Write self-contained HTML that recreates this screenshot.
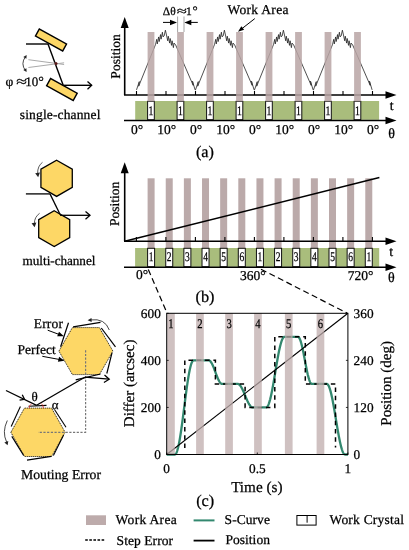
<!DOCTYPE html>
<html><head><meta charset="utf-8"><title>Figure</title>
<style>html,body{margin:0;padding:0;background:#fff;}svg{display:block;}text{font-family:"Liberation Serif",serif;text-rendering:geometricPrecision;stroke:#000;stroke-width:0.25px;}</style>
</head><body>
<svg width="409" height="550" viewBox="0 0 409 550" font-family="Liberation Serif, serif" fill="#000"><rect x="135.2" y="101" width="243.9" height="18.8" fill="#a9bd7c"/>
<rect x="147.60" y="101.3" width="6.7" height="18.4" fill="#fff" stroke="#111" stroke-width="1"/>
<text x="151.0" y="115" font-size="13" text-anchor="middle" transform="translate(151.00,0) scale(0.75,1) translate(-151.00,0)">1</text>
<rect x="177.10" y="101.3" width="6.7" height="18.4" fill="#fff" stroke="#111" stroke-width="1"/>
<text x="180.5" y="115" font-size="13" text-anchor="middle" transform="translate(180.50,0) scale(0.75,1) translate(-180.50,0)">1</text>
<rect x="206.60" y="101.3" width="6.7" height="18.4" fill="#fff" stroke="#111" stroke-width="1"/>
<text x="210.0" y="115" font-size="13" text-anchor="middle" transform="translate(210.00,0) scale(0.75,1) translate(-210.00,0)">1</text>
<rect x="236.10" y="101.3" width="6.7" height="18.4" fill="#fff" stroke="#111" stroke-width="1"/>
<text x="239.5" y="115" font-size="13" text-anchor="middle" transform="translate(239.50,0) scale(0.75,1) translate(-239.50,0)">1</text>
<rect x="265.60" y="101.3" width="6.7" height="18.4" fill="#fff" stroke="#111" stroke-width="1"/>
<text x="269.0" y="115" font-size="13" text-anchor="middle" transform="translate(269.00,0) scale(0.75,1) translate(-269.00,0)">1</text>
<rect x="295.10" y="101.3" width="6.7" height="18.4" fill="#fff" stroke="#111" stroke-width="1"/>
<text x="298.5" y="115" font-size="13" text-anchor="middle" transform="translate(298.50,0) scale(0.75,1) translate(-298.50,0)">1</text>
<rect x="324.60" y="101.3" width="6.7" height="18.4" fill="#fff" stroke="#111" stroke-width="1"/>
<text x="328.0" y="115" font-size="13" text-anchor="middle" transform="translate(328.00,0) scale(0.75,1) translate(-328.00,0)">1</text>
<rect x="354.10" y="101.3" width="6.7" height="18.4" fill="#fff" stroke="#111" stroke-width="1"/>
<text x="357.5" y="115" font-size="13" text-anchor="middle" transform="translate(357.50,0) scale(0.75,1) translate(-357.50,0)">1</text>
<line x1="124.7" y1="95" x2="124.7" y2="27" stroke="#000" stroke-width="1.6"/>
<polygon points="124.70,17.00 128.70,28.00 120.70,28.00" fill="#000"/>
<line x1="124" y1="95" x2="387" y2="95" stroke="#000" stroke-width="1.6"/>
<polygon points="396.50,95.00 385.50,98.75 385.50,91.25" fill="#000"/>
<line x1="124" y1="120.5" x2="387" y2="120.5" stroke="#000" stroke-width="1.6"/>
<polygon points="396.50,120.50 385.50,124.25 385.50,116.75" fill="#000"/>
<line x1="136.5" y1="91" x2="136.5" y2="95" stroke="#000" stroke-width="1.1"/>
<line x1="166.0" y1="91" x2="166.0" y2="95" stroke="#000" stroke-width="1.1"/>
<line x1="195.5" y1="91" x2="195.5" y2="95" stroke="#000" stroke-width="1.1"/>
<line x1="225.0" y1="91" x2="225.0" y2="95" stroke="#000" stroke-width="1.1"/>
<line x1="254.5" y1="91" x2="254.5" y2="95" stroke="#000" stroke-width="1.1"/>
<line x1="284.0" y1="91" x2="284.0" y2="95" stroke="#000" stroke-width="1.1"/>
<line x1="313.5" y1="91" x2="313.5" y2="95" stroke="#000" stroke-width="1.1"/>
<line x1="343.0" y1="91" x2="343.0" y2="95" stroke="#000" stroke-width="1.1"/>
<line x1="372.5" y1="91" x2="372.5" y2="95" stroke="#000" stroke-width="1.1"/>
<polyline points="136.50,89.90 139.30,81.60 138.70,86.20 155.60,44.30 156.70,39.32 157.30,43.92 158.60,36.95 159.20,41.55 160.50,34.57 161.10,39.17 162.40,32.20 163.00,36.80 164.10,36.00 165.40,30.20 166.70,36.00 167.70,40.80 168.30,36.20 169.60,43.08 170.20,38.48 171.50,45.36 172.10,40.76 173.40,47.64 174.00,43.04 175.70,45.00 193.20,85.40 192.50,81.20 195.10,89.90 195.50,89.90 198.30,81.60 197.70,86.20 214.60,44.30 215.70,39.32 216.30,43.92 217.60,36.95 218.20,41.55 219.50,34.57 220.10,39.17 221.40,32.20 222.00,36.80 223.10,36.00 224.40,30.20 225.70,36.00 226.70,40.80 227.30,36.20 228.60,43.08 229.20,38.48 230.50,45.36 231.10,40.76 232.40,47.64 233.00,43.04 234.70,45.00 252.20,85.40 251.50,81.20 254.10,89.90 254.50,89.90 257.30,81.60 256.70,86.20 273.60,44.30 274.70,39.32 275.30,43.92 276.60,36.95 277.20,41.55 278.50,34.57 279.10,39.17 280.40,32.20 281.00,36.80 282.10,36.00 283.40,30.20 284.70,36.00 285.70,40.80 286.30,36.20 287.60,43.08 288.20,38.48 289.50,45.36 290.10,40.76 291.40,47.64 292.00,43.04 293.70,45.00 311.20,85.40 310.50,81.20 313.10,89.90 313.50,89.90 316.30,81.60 315.70,86.20 332.60,44.30 333.70,39.32 334.30,43.92 335.60,36.95 336.20,41.55 337.50,34.57 338.10,39.17 339.40,32.20 340.00,36.80 341.10,36.00 342.40,30.20 343.70,36.00 344.70,40.80 345.30,36.20 346.60,43.08 347.20,38.48 348.50,45.36 349.10,40.76 350.40,47.64 351.00,43.04 352.70,45.00 370.20,85.40 369.50,81.20 372.10,89.90" fill="none" stroke="#222" stroke-width="0.8" stroke-linejoin="bevel"/>
<rect x="147.60" y="32" width="6.8" height="69.3" fill="#b9a5a5" fill-opacity="0.85"/>
<rect x="177.10" y="32" width="6.8" height="69.3" fill="#b9a5a5" fill-opacity="0.85"/>
<rect x="206.60" y="32" width="6.8" height="69.3" fill="#b9a5a5" fill-opacity="0.85"/>
<rect x="236.10" y="32" width="6.8" height="69.3" fill="#b9a5a5" fill-opacity="0.85"/>
<rect x="265.60" y="32" width="6.8" height="69.3" fill="#b9a5a5" fill-opacity="0.85"/>
<rect x="295.10" y="32" width="6.8" height="69.3" fill="#b9a5a5" fill-opacity="0.85"/>
<rect x="324.60" y="32" width="6.8" height="69.3" fill="#b9a5a5" fill-opacity="0.85"/>
<rect x="354.10" y="32" width="6.8" height="69.3" fill="#b9a5a5" fill-opacity="0.85"/>
<text x="137.1" y="133.6" font-size="13.5" text-anchor="middle" >0°</text>
<text x="166.6" y="133.6" font-size="13.5" text-anchor="middle" >10°</text>
<text x="196.1" y="133.6" font-size="13.5" text-anchor="middle" >0°</text>
<text x="225.6" y="133.6" font-size="13.5" text-anchor="middle" >10°</text>
<text x="255.1" y="133.6" font-size="13.5" text-anchor="middle" >0°</text>
<text x="284.6" y="133.6" font-size="13.5" text-anchor="middle" >10°</text>
<text x="314.1" y="133.6" font-size="13.5" text-anchor="middle" >0°</text>
<text x="343.6" y="133.6" font-size="13.5" text-anchor="middle" >10°</text>
<text x="373.1" y="133.6" font-size="13.5" text-anchor="middle" >0°</text>
<text x="391.7" y="110" font-size="14" text-anchor="middle" >t</text>
<text x="391.7" y="137.5" font-size="14" text-anchor="middle" >θ</text>
<text x="205" y="157.2" font-size="16.3" text-anchor="middle" >(a)</text>
<text transform="translate(120.1,56.5) rotate(-90)" x="0" y="0" font-size="13.5" text-anchor="middle">Position</text>
<text x="162.8" y="15.3" font-size="11.5">Δθ</text>
<text transform="translate(176.8,14.9) scale(1.6,1.05)" x="0" y="0" font-size="11.5">≈</text>
<text y="15.3" font-size="11.5"><tspan x="186">1</tspan><tspan x="192.4" font-size="13">°</tspan></text>
<line x1="163" y1="22.4" x2="171" y2="22.4" stroke="#000" stroke-width="1"/>
<polygon points="177.00,22.40 170.00,25.15 170.00,19.65" fill="#000"/>
<line x1="190" y1="22.4" x2="197.8" y2="22.4" stroke="#000" stroke-width="1"/>
<polygon points="184.30,22.40 191.30,19.65 191.30,25.15" fill="#000"/>
<line x1="177.6" y1="16.5" x2="177.6" y2="32" stroke="#999" stroke-width="0.9"/>
<line x1="184" y1="16.5" x2="184" y2="32" stroke="#999" stroke-width="0.9"/>
<text x="227.4" y="13.7" font-size="13.5" textLength="61.1" lengthAdjust="spacing" >Work Area</text>
<line x1="254.8" y1="18.6" x2="242" y2="28.6" stroke="#000" stroke-width="1"/>
<polygon points="238.00,31.70 241.35,26.24 244.12,29.78" fill="#000"/>
<rect x="35.5" y="36" width="31" height="8" fill="#fdd766" stroke="#000" stroke-width="1.4" transform="rotate(28.6 51 40)"/>
<rect x="46.7" y="85.4" width="30.4" height="8.2" fill="#fdd766" stroke="#000" stroke-width="1.4" transform="rotate(29 61.9 89.5)"/>
<line x1="26" y1="44" x2="48" y2="44" stroke="#000" stroke-width="1.4"/>
<line x1="48" y1="44" x2="63.1" y2="85" stroke="#000" stroke-width="1.4"/>
<line x1="63.1" y1="85.3" x2="91.5" y2="85.3" stroke="#000" stroke-width="1.4"/>
<polyline points="87.50,89.20 91.70,85.30 87.50,81.40" fill="none" stroke="#000" stroke-width="1.3"/>
<line x1="28.4" y1="59.7" x2="64.1" y2="64.5" stroke="#aaa" stroke-width="1"/>
<line x1="28.4" y1="67.5" x2="64.1" y2="62.8" stroke="#aaa" stroke-width="1"/>
<circle cx="56" cy="63.4" r="1.5" fill="#5a1818"/>
<path d="M25.6,56.5 Q20.2,63.7 25.6,70.8" fill="none" stroke="#333" stroke-width="0.9"/>
<polygon points="26.60,55.00 26.39,58.84 23.31,56.99" fill="#222"/>
<polygon points="26.60,72.00 23.31,70.01 26.39,68.16" fill="#222"/>
<text x="5.4" y="86.4" font-size="13.5">φ</text>
<text transform="translate(16.2,85.6) scale(1.5,1.05)" x="0" y="0" font-size="13">≈</text>
<text x="25.3" y="86.4" font-size="13">10<tspan font-size="14">°</tspan></text>
<text x="19.8" y="119.4" font-size="13.5" textLength="80.6" lengthAdjust="spacing" >single-channel</text>
<rect x="147.60" y="178.3" width="7" height="70" fill="#bbaaaa"/>
<rect x="165.74" y="178.3" width="7" height="70" fill="#bbaaaa"/>
<rect x="183.88" y="178.3" width="7" height="70" fill="#bbaaaa"/>
<rect x="202.02" y="178.3" width="7" height="70" fill="#bbaaaa"/>
<rect x="220.16" y="178.3" width="7" height="70" fill="#bbaaaa"/>
<rect x="238.30" y="178.3" width="7" height="70" fill="#bbaaaa"/>
<rect x="256.44" y="178.3" width="7" height="70" fill="#bbaaaa"/>
<rect x="274.58" y="178.3" width="7" height="70" fill="#bbaaaa"/>
<rect x="292.72" y="178.3" width="7" height="70" fill="#bbaaaa"/>
<rect x="310.86" y="178.3" width="7" height="70" fill="#bbaaaa"/>
<rect x="329.00" y="178.3" width="7" height="70" fill="#bbaaaa"/>
<rect x="347.14" y="178.3" width="7" height="70" fill="#bbaaaa"/>
<rect x="365.28" y="178.3" width="7" height="70" fill="#bbaaaa"/>
<rect x="135.1" y="248" width="244.1" height="18.8" fill="#a9bd7c"/>
<rect x="147.60" y="248.3" width="7" height="18.4" fill="#fff" stroke="#111" stroke-width="1"/>
<text x="151.1" y="261.1" font-size="13.2" text-anchor="middle" transform="translate(151.10,0) scale(0.72,1) translate(-151.10,0)">1</text>
<rect x="165.74" y="248.3" width="7" height="18.4" fill="#fff" stroke="#111" stroke-width="1"/>
<text x="169.24" y="261.1" font-size="13.2" text-anchor="middle" transform="translate(169.24,0) scale(0.72,1) translate(-169.24,0)">2</text>
<rect x="183.88" y="248.3" width="7" height="18.4" fill="#fff" stroke="#111" stroke-width="1"/>
<text x="187.38" y="261.1" font-size="13.2" text-anchor="middle" transform="translate(187.38,0) scale(0.72,1) translate(-187.38,0)">3</text>
<rect x="202.02" y="248.3" width="7" height="18.4" fill="#fff" stroke="#111" stroke-width="1"/>
<text x="205.51999999999998" y="261.1" font-size="13.2" text-anchor="middle" transform="translate(205.52,0) scale(0.72,1) translate(-205.52,0)">4</text>
<rect x="220.16" y="248.3" width="7" height="18.4" fill="#fff" stroke="#111" stroke-width="1"/>
<text x="223.66" y="261.1" font-size="13.2" text-anchor="middle" transform="translate(223.66,0) scale(0.72,1) translate(-223.66,0)">5</text>
<rect x="238.30" y="248.3" width="7" height="18.4" fill="#fff" stroke="#111" stroke-width="1"/>
<text x="241.8" y="261.1" font-size="13.2" text-anchor="middle" transform="translate(241.80,0) scale(0.72,1) translate(-241.80,0)">6</text>
<rect x="256.44" y="248.3" width="7" height="18.4" fill="#fff" stroke="#111" stroke-width="1"/>
<text x="259.94" y="261.1" font-size="13.2" text-anchor="middle" transform="translate(259.94,0) scale(0.72,1) translate(-259.94,0)">1</text>
<rect x="274.58" y="248.3" width="7" height="18.4" fill="#fff" stroke="#111" stroke-width="1"/>
<text x="278.08" y="261.1" font-size="13.2" text-anchor="middle" transform="translate(278.08,0) scale(0.72,1) translate(-278.08,0)">2</text>
<rect x="292.72" y="248.3" width="7" height="18.4" fill="#fff" stroke="#111" stroke-width="1"/>
<text x="296.22" y="261.1" font-size="13.2" text-anchor="middle" transform="translate(296.22,0) scale(0.72,1) translate(-296.22,0)">3</text>
<rect x="310.86" y="248.3" width="7" height="18.4" fill="#fff" stroke="#111" stroke-width="1"/>
<text x="314.36" y="261.1" font-size="13.2" text-anchor="middle" transform="translate(314.36,0) scale(0.72,1) translate(-314.36,0)">4</text>
<rect x="329.00" y="248.3" width="7" height="18.4" fill="#fff" stroke="#111" stroke-width="1"/>
<text x="332.5" y="261.1" font-size="13.2" text-anchor="middle" transform="translate(332.50,0) scale(0.72,1) translate(-332.50,0)">5</text>
<rect x="347.14" y="248.3" width="7" height="18.4" fill="#fff" stroke="#111" stroke-width="1"/>
<text x="350.64" y="261.1" font-size="13.2" text-anchor="middle" transform="translate(350.64,0) scale(0.72,1) translate(-350.64,0)">6</text>
<rect x="365.28" y="248.3" width="7" height="18.4" fill="#fff" stroke="#111" stroke-width="1"/>
<text x="368.78" y="261.1" font-size="13.2" text-anchor="middle" transform="translate(368.78,0) scale(0.72,1) translate(-368.78,0)">1</text>
<line x1="124.7" y1="241.3" x2="124.7" y2="172" stroke="#000" stroke-width="1.6"/>
<polygon points="124.70,162.20 128.70,173.20 120.70,173.20" fill="#000"/>
<line x1="124" y1="241.3" x2="387" y2="241.3" stroke="#000" stroke-width="1.6"/>
<polygon points="396.50,241.30 385.50,245.05 385.50,237.55" fill="#000"/>
<line x1="124" y1="267.3" x2="387" y2="267.3" stroke="#000" stroke-width="1.6"/>
<polygon points="396.50,267.30 385.50,271.05 385.50,263.55" fill="#000"/>
<line x1="136.4" y1="237" x2="136.4" y2="241.3" stroke="#000" stroke-width="1.1"/>
<line x1="165.9" y1="237" x2="165.9" y2="241.3" stroke="#000" stroke-width="1.1"/>
<line x1="195.4" y1="237" x2="195.4" y2="241.3" stroke="#000" stroke-width="1.1"/>
<line x1="224.9" y1="237" x2="224.9" y2="241.3" stroke="#000" stroke-width="1.1"/>
<line x1="254.4" y1="237" x2="254.4" y2="241.3" stroke="#000" stroke-width="1.1"/>
<line x1="283.9" y1="237" x2="283.9" y2="241.3" stroke="#000" stroke-width="1.1"/>
<line x1="313.4" y1="237" x2="313.4" y2="241.3" stroke="#000" stroke-width="1.1"/>
<line x1="342.9" y1="237" x2="342.9" y2="241.3" stroke="#000" stroke-width="1.1"/>
<line x1="372.4" y1="237" x2="372.4" y2="241.3" stroke="#000" stroke-width="1.1"/>
<line x1="124.7" y1="241.3" x2="379.4" y2="177.5" stroke="#000" stroke-width="1.5"/>
<text x="142" y="279.4" font-size="13.5" text-anchor="middle" >0°</text>
<text x="252.8" y="279.8" font-size="13.5" text-anchor="middle" >360°</text>
<text x="360.7" y="280" font-size="13.5" text-anchor="middle" >720°</text>
<text x="391.3" y="255.9" font-size="14" text-anchor="middle" >t</text>
<text x="391.3" y="282" font-size="14" text-anchor="middle" >θ</text>
<text x="205" y="301.5" font-size="16.3" text-anchor="middle" >(b)</text>
<text transform="translate(119.2,203.8) rotate(-90)" x="0" y="0" font-size="13.5" text-anchor="middle">Position</text>
<line x1="148.3" y1="269.6" x2="167" y2="313" stroke="#000" stroke-width="1.2" stroke-dasharray="6,3.5"/>
<line x1="261" y1="269.2" x2="347" y2="313" stroke="#000" stroke-width="1.2" stroke-dasharray="6,3.5"/>
<polygon points="56.60,160.20 72.28,169.25 72.28,187.35 56.60,196.40 40.92,187.35 40.92,169.25" fill="#fdd766" stroke="#000" stroke-width="1.3"/>
<polygon points="54.20,210.80 69.70,219.75 69.70,237.65 54.20,246.60 38.70,237.65 38.70,219.75" fill="#fdd766" stroke="#000" stroke-width="1.3"/>
<line x1="25.9" y1="193.9" x2="50" y2="193.9" stroke="#000" stroke-width="1.3"/>
<line x1="50" y1="193.9" x2="60.1" y2="214.5" stroke="#000" stroke-width="1.3"/>
<line x1="60.1" y1="215.3" x2="89.8" y2="215.3" stroke="#000" stroke-width="1.3"/>
<polyline points="85.50,219.20 90.00,215.30 85.50,211.40" fill="none" stroke="#000" stroke-width="1.3"/>
<path d="M42.5,162.3 Q37.5,166 37.6,173.5" fill="none" stroke="#333" stroke-width="0.8"/>
<polygon points="38.20,177.20 35.19,173.30 39.94,172.59" fill="#222"/>
<path d="M39.6,213.3 Q34.5,217 34.3,223.5" fill="none" stroke="#333" stroke-width="0.8"/>
<polygon points="34.60,227.20 31.59,223.30 36.34,222.59" fill="#222"/>
<text x="22.6" y="264.5" font-size="13.2" textLength="72.8" lengthAdjust="spacing" >multi-channel</text>
<polyline points="166.70,454.50 166.90,454.50 167.10,454.50 167.30,454.50 167.51,454.50 167.71,454.50 167.91,454.50 168.11,454.50 168.31,454.50 168.51,454.50 168.71,454.50 168.91,454.50 169.12,454.50 169.32,454.50 169.52,454.50 169.72,454.50 169.92,454.50 170.12,454.50 170.32,454.50 170.53,454.50 170.73,454.50 170.93,454.50 171.13,454.50 171.33,454.50 171.53,454.50 171.73,454.50 171.93,454.50 172.14,454.50 172.34,454.50 172.54,454.50 172.74,454.50 172.94,454.50 173.14,454.50 173.34,454.50 173.55,454.50 173.75,454.50 173.95,454.50 174.15,454.50 174.35,454.50 174.55,454.50 174.75,454.50 174.95,454.48 175.16,454.42 175.36,454.30 175.56,454.12 175.76,453.90 175.96,453.62 176.16,453.29 176.36,452.90 176.57,452.47 176.77,451.98 176.97,451.44 177.17,450.86 177.37,450.22 177.57,449.54 177.77,448.81 177.97,448.03 178.18,447.21 178.38,446.34 178.58,445.42 178.78,444.47 178.98,443.47 179.18,442.43 179.38,441.35 179.59,440.24 179.79,439.08 179.99,437.89 180.19,436.67 180.39,435.41 180.59,434.12 180.79,432.80 180.99,431.46 181.20,430.08 181.40,428.68 181.60,427.25 181.80,425.81 182.00,424.34 182.20,422.85 182.40,421.35 182.61,419.83 182.81,418.29 183.01,416.75 183.21,415.19 183.41,413.62 183.61,412.05 183.81,410.47 184.01,408.89 184.22,407.31 184.42,405.72 184.62,404.14 184.82,402.57 185.02,400.99 185.22,399.43 185.42,397.87 185.63,396.33 185.83,394.80 186.03,393.28 186.23,391.78 186.43,390.29 186.63,388.83 186.83,387.38 187.03,385.96 187.24,384.57 187.44,383.20 187.64,381.85 187.84,380.54 188.04,379.25 188.24,378.00 188.44,376.78 188.65,375.60 188.85,374.45 189.05,373.34 189.25,372.27 189.45,371.23 189.65,370.24 189.85,369.29 190.05,368.39 190.26,367.53 190.46,366.71 190.66,365.94 190.86,365.21 191.06,364.54 191.26,363.91 191.46,363.33 191.67,362.81 191.87,362.33 192.07,361.90 192.27,361.53 192.47,361.20 192.67,360.93 192.87,360.71 193.07,360.55 193.28,360.44 193.48,360.38 193.68,360.37 193.88,360.37 194.08,360.37 194.28,360.37 194.48,360.37 194.69,360.37 194.89,360.37 195.09,360.37 195.29,360.37 195.49,360.37 195.69,360.37 195.89,360.37 196.09,360.37 196.30,360.37 196.50,360.37 196.70,360.37 196.90,360.37 197.10,360.37 197.30,360.37 197.50,360.37 197.71,360.37 197.91,360.37 198.11,360.37 198.31,360.37 198.51,360.37 198.71,360.37 198.91,360.37 199.11,360.37 199.32,360.37 199.52,360.37 199.72,360.37 199.92,360.37 200.12,360.37 200.32,360.37 200.52,360.37 200.73,360.37 200.93,360.37 201.13,360.37 201.33,360.37 201.53,360.37 201.73,360.37 201.93,360.37 202.13,360.37 202.34,360.37 202.54,360.37 202.74,360.37 202.94,360.37 203.14,360.37 203.34,360.37 203.54,360.37 203.75,360.37 203.95,360.37 204.15,360.37 204.35,360.37 204.55,360.37 204.75,360.37 204.95,360.37 205.15,360.37 205.36,360.37 205.56,360.37 205.76,360.37 205.96,360.37 206.16,360.37 206.36,360.37 206.56,360.37 206.77,360.37 206.97,360.37 207.17,360.37 207.37,360.37 207.57,360.37 207.77,360.37 207.97,360.37 208.17,360.37 208.38,360.37 208.58,360.37 208.78,360.38 208.98,360.41 209.18,360.47 209.38,360.56 209.58,360.67 209.79,360.81 209.99,360.97 210.19,361.15 210.39,361.36 210.59,361.59 210.79,361.84 210.99,362.12 211.19,362.42 211.40,362.74 211.60,363.08 211.80,363.44 212.00,363.81 212.20,364.21 212.40,364.62 212.60,365.05 212.81,365.50 213.01,365.95 213.21,366.43 213.41,366.91 213.61,367.41 213.81,367.91 214.01,368.43 214.21,368.95 214.42,369.48 214.62,370.02 214.82,370.56 215.02,371.10 215.22,371.65 215.42,372.19 215.62,372.74 215.83,373.29 216.03,373.83 216.23,374.37 216.43,374.90 216.63,375.43 216.83,375.96 217.03,376.47 217.23,376.97 217.44,377.47 217.64,377.95 217.84,378.42 218.04,378.87 218.24,379.31 218.44,379.74 218.64,380.15 218.85,380.54 219.05,380.91 219.25,381.27 219.45,381.60 219.65,381.92 219.85,382.21 220.05,382.48 220.25,382.73 220.46,382.96 220.66,383.16 220.86,383.34 221.06,383.49 221.26,383.62 221.46,383.73 221.66,383.81 221.87,383.86 222.07,383.89 222.27,383.90 222.47,383.90 222.67,383.90 222.87,383.90 223.07,383.90 223.27,383.90 223.48,383.90 223.68,383.90 223.88,383.90 224.08,383.90 224.28,383.90 224.48,383.90 224.68,383.90 224.89,383.90 225.09,383.90 225.29,383.90 225.49,383.90 225.69,383.90 225.89,383.90 226.09,383.90 226.29,383.90 226.50,383.90 226.70,383.90 226.90,383.90 227.10,383.90 227.30,383.90 227.50,383.90 227.70,383.90 227.91,383.90 228.11,383.90 228.31,383.90 228.51,383.90 228.71,383.90 228.91,383.90 229.11,383.90 229.31,383.90 229.52,383.90 229.72,383.90 229.92,383.90 230.12,383.90 230.32,383.90 230.52,383.90 230.72,383.90 230.93,383.90 231.13,383.90 231.33,383.90 231.53,383.90 231.73,383.90 231.93,383.90 232.13,383.90 232.33,383.90 232.54,383.90 232.74,383.90 232.94,383.90 233.14,383.90 233.34,383.90 233.54,383.90 233.74,383.90 233.95,383.90 234.15,383.90 234.35,383.90 234.55,383.90 234.75,383.90 234.95,383.90 235.15,383.90 235.35,383.90 235.56,383.90 235.76,383.90 235.96,383.90 236.16,383.90 236.36,383.90 236.56,383.90 236.76,383.90 236.97,383.90 237.17,383.90 237.37,383.90 237.57,383.90 237.77,383.91 237.97,383.93 238.17,383.98 238.37,384.05 238.58,384.14 238.78,384.25 238.98,384.37 239.18,384.52 239.38,384.69 239.58,384.87 239.78,385.08 239.99,385.30 240.19,385.54 240.39,385.80 240.59,386.08 240.79,386.37 240.99,386.68 241.19,387.00 241.39,387.34 241.60,387.69 241.80,388.06 242.00,388.44 242.20,388.83 242.40,389.23 242.60,389.65 242.80,390.07 243.01,390.51 243.21,390.95 243.41,391.41 243.61,391.87 243.81,392.33 244.01,392.81 244.21,393.28 244.41,393.77 244.62,394.25 244.82,394.74 245.02,395.23 245.22,395.72 245.42,396.20 245.62,396.69 245.82,397.18 246.03,397.66 246.23,398.14 246.43,398.62 246.63,399.09 246.83,399.56 247.03,400.02 247.23,400.47 247.43,400.91 247.64,401.34 247.84,401.77 248.04,402.18 248.24,402.58 248.44,402.97 248.64,403.35 248.84,403.71 249.05,404.06 249.25,404.40 249.45,404.72 249.65,405.03 249.85,405.31 250.05,405.59 250.25,405.84 250.45,406.08 250.66,406.30 250.86,406.50 251.06,406.68 251.26,406.84 251.46,406.99 251.66,407.11 251.86,407.21 252.07,407.30 252.27,407.36 252.47,407.41 252.67,407.43 252.87,407.43 253.07,407.43 253.27,407.43 253.47,407.43 253.68,407.43 253.88,407.43 254.08,407.43 254.28,407.43 254.48,407.43 254.68,407.43 254.88,407.43 255.09,407.43 255.29,407.43 255.49,407.43 255.69,407.43 255.89,407.43 256.09,407.43 256.29,407.43 256.49,407.43 256.70,407.43 256.90,407.43 257.10,407.43 257.30,407.43 257.50,407.43 257.70,407.43 257.90,407.43 258.11,407.43 258.31,407.43 258.51,407.43 258.71,407.43 258.91,407.43 259.11,407.43 259.31,407.43 259.51,407.43 259.72,407.43 259.92,407.43 260.12,407.43 260.32,407.43 260.52,407.43 260.72,407.43 260.92,407.43 261.13,407.43 261.33,407.43 261.53,407.43 261.73,407.43 261.93,407.43 262.13,407.43 262.33,407.43 262.53,407.43 262.74,407.43 262.94,407.43 263.14,407.43 263.34,407.43 263.54,407.43 263.74,407.43 263.94,407.43 264.15,407.43 264.35,407.43 264.55,407.43 264.75,407.43 264.95,407.43 265.15,407.43 265.35,407.43 265.55,407.43 265.76,407.43 265.96,407.43 266.16,407.43 266.36,407.40 266.56,407.32 266.76,407.21 266.96,407.05 267.17,406.85 267.37,406.61 267.57,406.33 267.77,406.01 267.97,405.65 268.17,405.25 268.37,404.81 268.57,404.33 268.78,403.81 268.98,403.26 269.18,402.67 269.38,402.04 269.58,401.38 269.78,400.68 269.98,399.95 270.19,399.19 270.39,398.39 270.59,397.57 270.79,396.71 270.99,395.83 271.19,394.91 271.39,393.97 271.59,393.01 271.80,392.01 272.00,391.00 272.20,389.96 272.40,388.91 272.60,387.83 272.80,386.73 273.00,385.62 273.21,384.49 273.41,383.35 273.61,382.19 273.81,381.02 274.01,379.84 274.21,378.65 274.41,377.46 274.61,376.25 274.82,375.05 275.02,373.84 275.22,372.62 275.42,371.41 275.62,370.20 275.82,368.99 276.02,367.78 276.23,366.58 276.43,365.38 276.63,364.20 276.83,363.02 277.03,361.85 277.23,360.70 277.43,359.56 277.63,358.43 277.84,357.32 278.04,356.23 278.24,355.16 278.44,354.10 278.64,353.07 278.84,352.06 279.04,351.07 279.25,350.11 279.45,349.18 279.65,348.27 279.85,347.39 280.05,346.54 280.25,345.72 280.45,344.93 280.65,344.17 280.86,343.45 281.06,342.76 281.26,342.10 281.46,341.48 281.66,340.90 281.86,340.35 282.06,339.84 282.27,339.37 282.47,338.94 282.67,338.55 282.87,338.19 283.07,337.88 283.27,337.61 283.47,337.37 283.67,337.18 283.88,337.03 284.08,336.93 284.28,336.86 284.48,336.83 284.68,336.83 284.88,336.83 285.08,336.83 285.29,336.83 285.49,336.83 285.69,336.83 285.89,336.83 286.09,336.83 286.29,336.83 286.49,336.83 286.69,336.83 286.90,336.83 287.10,336.83 287.30,336.83 287.50,336.83 287.70,336.83 287.90,336.83 288.10,336.83 288.31,336.83 288.51,336.83 288.71,336.83 288.91,336.83 289.11,336.83 289.31,336.83 289.51,336.83 289.71,336.83 289.92,336.83 290.12,336.83 290.32,336.83 290.52,336.83 290.72,336.83 290.92,336.83 291.12,336.83 291.33,336.83 291.53,336.83 291.73,336.83 291.93,336.83 292.13,336.83 292.33,336.83 292.53,336.83 292.73,336.83 292.94,336.83 293.14,336.83 293.34,336.83 293.54,336.83 293.74,336.83 293.94,336.83 294.14,336.83 294.35,336.83 294.55,336.83 294.75,336.83 294.95,336.83 295.15,336.83 295.35,336.83 295.55,336.83 295.75,336.83 295.96,336.83 296.16,336.83 296.36,336.83 296.56,336.83 296.76,336.83 296.96,336.83 297.16,336.83 297.37,336.83 297.57,336.83 297.77,336.83 297.97,336.84 298.17,336.88 298.37,336.97 298.57,337.10 298.77,337.29 298.98,337.52 299.18,337.79 299.38,338.12 299.58,338.49 299.78,338.90 299.98,339.36 300.18,339.86 300.39,340.40 300.59,340.98 300.79,341.60 300.99,342.27 301.19,342.96 301.39,343.70 301.59,344.46 301.79,345.26 302.00,346.09 302.20,346.95 302.40,347.84 302.60,348.75 302.80,349.69 303.00,350.65 303.20,351.62 303.41,352.62 303.61,353.63 303.81,354.66 304.01,355.69 304.21,356.74 304.41,357.79 304.61,358.85 304.81,359.92 305.02,360.98 305.22,362.04 305.42,363.10 305.62,364.15 305.82,365.20 306.02,366.23 306.22,367.26 306.43,368.27 306.63,369.26 306.83,370.23 307.03,371.19 307.23,372.12 307.43,373.03 307.63,373.91 307.83,374.77 308.04,375.59 308.24,376.39 308.44,377.15 308.64,377.88 308.84,378.57 309.04,379.23 309.24,379.84 309.45,380.42 309.65,380.96 309.85,381.45 310.05,381.90 310.25,382.31 310.45,382.67 310.65,382.99 310.85,383.26 311.06,383.48 311.26,383.66 311.46,383.78 311.66,383.87 311.86,383.90 312.06,383.90 312.26,383.90 312.47,383.90 312.67,383.90 312.87,383.90 313.07,383.90 313.27,383.90 313.47,383.90 313.67,383.90 313.87,383.90 314.08,383.90 314.28,383.90 314.48,383.90 314.68,383.90 314.88,383.90 315.08,383.90 315.28,383.90 315.49,383.90 315.69,383.90 315.89,383.90 316.09,383.90 316.29,383.90 316.49,383.90 316.69,383.90 316.89,383.90 317.10,383.90 317.30,383.90 317.50,383.90 317.70,383.90 317.90,383.90 318.10,383.90 318.30,383.90 318.51,383.90 318.71,383.90 318.91,383.90 319.11,383.90 319.31,383.90 319.51,383.90 319.71,383.90 319.91,383.90 320.12,383.90 320.32,383.90 320.52,383.90 320.72,383.90 320.92,383.90 321.12,383.90 321.32,383.90 321.53,383.90 321.73,383.90 321.93,383.90 322.13,383.90 322.33,383.90 322.53,383.90 322.73,383.90 322.93,383.90 323.14,383.90 323.34,383.90 323.54,383.90 323.74,383.90 323.94,383.90 324.14,383.90 324.34,383.90 324.55,383.90 324.75,383.90 324.95,383.90 325.15,383.90 325.35,383.90 325.55,383.90 325.75,383.90 325.95,383.90 326.16,383.90 326.36,383.90 326.56,383.90 326.76,383.90 326.96,383.94 327.16,384.01 327.36,384.13 327.57,384.28 327.77,384.48 327.97,384.72 328.17,385.01 328.37,385.33 328.57,385.69 328.77,386.09 328.97,386.53 329.18,387.01 329.38,387.52 329.58,388.08 329.78,388.67 329.98,389.30 330.18,389.96 330.38,390.66 330.59,391.39 330.79,392.15 330.99,392.95 331.19,393.77 331.39,394.63 331.59,395.51 331.79,396.43 331.99,397.37 332.20,398.33 332.40,399.33 332.60,400.34 332.80,401.38 333.00,402.43 333.20,403.51 333.40,404.61 333.61,405.72 333.81,406.85 334.01,407.99 334.21,409.15 334.41,410.32 334.61,411.50 334.81,412.69 335.01,413.88 335.22,415.09 335.42,416.29 335.62,417.51 335.82,418.72 336.02,419.93 336.22,421.14 336.42,422.35 336.63,423.56 336.83,424.76 337.03,425.96 337.23,427.14 337.43,428.32 337.63,429.49 337.83,430.64 338.03,431.78 338.24,432.91 338.44,434.02 338.64,435.11 338.84,436.18 339.04,437.24 339.24,438.27 339.44,439.28 339.65,440.27 339.85,441.23 340.05,442.16 340.25,443.07 340.45,443.95 340.65,444.80 340.85,445.62 341.05,446.41 341.26,447.17 341.46,447.89 341.66,448.58 341.86,449.24 342.06,449.85 342.26,450.44 342.46,450.98 342.67,451.49 342.87,451.96 343.07,452.40 343.27,452.79 343.47,453.14 343.67,453.46 343.87,453.73 344.07,453.96 344.28,454.15 344.48,454.30 344.68,454.41 344.88,454.48 345.08,454.50 345.28,454.50 345.48,454.50 345.69,454.50 345.89,454.50 346.09,454.50 346.29,454.50 346.49,454.50 346.69,454.50 346.89,454.50 347.09,454.50 347.30,454.50 347.50,454.50 347.70,454.50 347.90,454.50" fill="none" stroke="#33886f" stroke-width="2.3" stroke-linejoin="round"/>
<polyline points="184.80,448.00 184.80,360.37 215.40,360.37 215.40,383.90 245.10,383.90 245.10,407.43 274.80,407.43 274.80,336.83 305.30,336.83 305.30,383.90 335.50,383.90 335.50,447.50" fill="none" stroke="#000" stroke-width="1.5" stroke-dasharray="4.5,3.8"/>
<line x1="166.7" y1="454.5" x2="347.9" y2="313.3" stroke="#000" stroke-width="1.1"/>
<rect x="167.10" y="313.3" width="7.7" height="141.2" fill="#bfacac" fill-opacity="0.75"/>
<text x="170.95" y="327.8" font-size="13.3" text-anchor="middle" transform="translate(170.95,0) scale(0.8,1) translate(-170.95,0)">1</text>
<rect x="196.10" y="313.3" width="7.7" height="141.2" fill="#bfacac" fill-opacity="0.75"/>
<text x="199.95" y="327.8" font-size="13.3" text-anchor="middle" transform="translate(199.95,0) scale(0.8,1) translate(-199.95,0)">2</text>
<rect x="225.20" y="313.3" width="7.7" height="141.2" fill="#bfacac" fill-opacity="0.75"/>
<text x="229.04999999999998" y="327.8" font-size="13.3" text-anchor="middle" transform="translate(229.05,0) scale(0.8,1) translate(-229.05,0)">3</text>
<rect x="254.10" y="313.3" width="7.7" height="141.2" fill="#bfacac" fill-opacity="0.75"/>
<text x="257.95" y="327.8" font-size="13.3" text-anchor="middle" transform="translate(257.95,0) scale(0.8,1) translate(-257.95,0)">4</text>
<rect x="284.90" y="313.3" width="7.7" height="141.2" fill="#bfacac" fill-opacity="0.75"/>
<text x="288.75" y="327.8" font-size="13.3" text-anchor="middle" transform="translate(288.75,0) scale(0.8,1) translate(-288.75,0)">5</text>
<rect x="316.60" y="313.3" width="7.7" height="141.2" fill="#bfacac" fill-opacity="0.75"/>
<text x="320.45000000000005" y="327.8" font-size="13.3" text-anchor="middle" transform="translate(320.45,0) scale(0.8,1) translate(-320.45,0)">6</text>
<rect x="166.7" y="313.3" width="181.2" height="141.2" fill="none" stroke="#000" stroke-width="1"/>
<line x1="166.7" y1="454.50" x2="168.7" y2="454.50" stroke="#000" stroke-width="0.8"/>
<line x1="347.9" y1="454.50" x2="345.9" y2="454.50" stroke="#000" stroke-width="0.8"/>
<line x1="166.7" y1="407.43" x2="168.7" y2="407.43" stroke="#000" stroke-width="0.8"/>
<line x1="347.9" y1="407.43" x2="345.9" y2="407.43" stroke="#000" stroke-width="0.8"/>
<line x1="166.7" y1="360.37" x2="168.7" y2="360.37" stroke="#000" stroke-width="0.8"/>
<line x1="347.9" y1="360.37" x2="345.9" y2="360.37" stroke="#000" stroke-width="0.8"/>
<line x1="166.7" y1="313.30" x2="168.7" y2="313.30" stroke="#000" stroke-width="0.8"/>
<line x1="347.9" y1="313.30" x2="345.9" y2="313.30" stroke="#000" stroke-width="0.8"/>
<line x1="166.70" y1="454.5" x2="166.70" y2="452.5" stroke="#000" stroke-width="0.8"/>
<line x1="257.30" y1="454.5" x2="257.30" y2="452.5" stroke="#000" stroke-width="0.8"/>
<line x1="347.90" y1="454.5" x2="347.90" y2="452.5" stroke="#000" stroke-width="0.8"/>
<text x="160.8" y="318.0" font-size="13.3" text-anchor="end" >600</text>
<text x="160.8" y="365.06666666666666" font-size="13.3" text-anchor="end" >400</text>
<text x="160.8" y="412.1333333333333" font-size="13.3" text-anchor="end" >200</text>
<text x="160.8" y="459.2" font-size="13.3" text-anchor="end" >0</text>
<text x="353.6" y="318.0" font-size="13.3" text-anchor="start" >360</text>
<text x="353.6" y="365.06666666666666" font-size="13.3" text-anchor="start" >240</text>
<text x="353.6" y="412.1333333333333" font-size="13.3" text-anchor="start" >120</text>
<text x="353.6" y="459.2" font-size="13.3" text-anchor="start" >0</text>
<text x="166.7" y="473.3" font-size="13.3" text-anchor="middle" >0</text>
<text x="257.29999999999995" y="473.3" font-size="13.3" text-anchor="middle" >0.5</text>
<text x="347.9" y="473.3" font-size="13.3" text-anchor="middle" >1</text>
<text transform="translate(134.2,383.4) rotate(-90)" x="0" y="0" font-size="15" text-anchor="middle">Differ (arcsec)</text>
<text transform="translate(391.2,383.4) rotate(-90)" x="0" y="0" font-size="15" text-anchor="middle">Position (deg)</text>
<text x="256.8" y="492.2" font-size="15.2" text-anchor="middle" >Time (s)</text>
<text x="205.2" y="506.2" font-size="16.3" text-anchor="middle" >(c)</text>
<polygon points="58.90,351.10 72.40,327.60 99.40,327.60 112.90,351.10 99.40,374.60 72.40,374.60" fill="#fdd766" stroke="#000" stroke-width="0.8" stroke-dasharray="1.2,0.8"/>
<polygon points="10.90,432.30 24.45,408.10 51.55,408.10 65.10,432.30 51.55,456.50 24.45,456.50" fill="#fdd766" stroke="#000" stroke-width="0.8" stroke-dasharray="1.2,0.8"/>
<polyline points="85.6,350.2 85.6,432.3 38,432.3" fill="none" stroke="#777" stroke-width="1.2" stroke-dasharray="2.2,1.5"/>
<line x1="68.5" y1="322.8" x2="60.6" y2="346.8" stroke="#000" stroke-width="1.2"/>
<line x1="73.1" y1="326.8" x2="100.5" y2="322.3" stroke="#000" stroke-width="1.2"/>
<line x1="101.3" y1="328" x2="115.5" y2="346.8" stroke="#000" stroke-width="1.2"/>
<line x1="112" y1="352.8" x2="106.8" y2="373.5" stroke="#000" stroke-width="1.2"/>
<line x1="75.7" y1="379.8" x2="100.5" y2="374" stroke="#000" stroke-width="1.2"/>
<line x1="20.4" y1="406.6" x2="11.2" y2="426.4" stroke="#000" stroke-width="1.1"/>
<line x1="11.8" y1="436.4" x2="23.6" y2="455.4" stroke="#000" stroke-width="1.1"/>
<line x1="27" y1="460.1" x2="51.3" y2="456.4" stroke="#000" stroke-width="1.1"/>
<line x1="53.4" y1="455.6" x2="63.6" y2="435" stroke="#000" stroke-width="1.1"/>
<line x1="54.5" y1="409.5" x2="66" y2="427.2" stroke="#000" stroke-width="1.1"/>
<line x1="28.5" y1="406.2" x2="46.5" y2="405.4" stroke="#000" stroke-width="1.1"/>
<path d="M90.5,319.9 Q105,318 109.3,330" fill="none" stroke="#333" stroke-width="0.9"/>
<polygon points="87.60,320.20 91.50,318.00 91.69,322.00" fill="#222"/>
<path d="M7.3,420.5 Q1.8,432 6.6,442" fill="none" stroke="#333" stroke-width="0.9"/>
<polygon points="7.60,445.30 4.36,442.41 8.33,441.02" fill="#222"/>
<line x1="6" y1="390.5" x2="36.6" y2="405.3" stroke="#000" stroke-width="1.3"/>
<polyline points="19.58,400.19 24.50,399.30 22.26,394.83" fill="none" stroke="#000" stroke-width="1.3"/>
<line x1="36.6" y1="405.3" x2="84.8" y2="377.2" stroke="#000" stroke-width="1.3"/>
<line x1="84.8" y1="377.2" x2="109" y2="379.2" stroke="#000" stroke-width="1.3"/>
<polyline points="103.92,382.54 109.20,379.20 104.51,375.06" fill="none" stroke="#000" stroke-width="1.3"/>
<path d="M29.1,408.2 Q29.3,405.2 31.6,403.8" fill="none" stroke="#e03030" stroke-width="0.8"/>
<path d="M41.4,403.6 Q43.3,404.8 43.4,408.2" fill="none" stroke="#e03030" stroke-width="0.8"/>
<line x1="47.7" y1="330.2" x2="59" y2="334.4" stroke="#000" stroke-width="1"/>
<polygon points="63.90,336.20 57.22,336.31 59.01,331.64" fill="#000"/>
<line x1="42.3" y1="356.3" x2="59.5" y2="359.5" stroke="#000" stroke-width="1"/>
<polygon points="64.50,360.80 57.88,361.72 59.09,356.87" fill="#000"/>
<text x="33.7" y="327.5" font-size="13.5" textLength="29.3" lengthAdjust="spacing" >Error</text>
<text x="17.5" y="354.4" font-size="13.5" textLength="38.2" lengthAdjust="spacing" >Perfect</text>
<text x="34.7" y="400.5" font-size="13" text-anchor="middle" >θ</text>
<text x="55.1" y="409" font-size="13" text-anchor="middle" >α</text>
<text x="21" y="478.7" font-size="13.7" textLength="80" lengthAdjust="spacing" >Mouting Error</text>
<rect x="86" y="515.3" width="20" height="9.7" fill="#bdabab"/>
<text x="115.6" y="524" font-size="13.5" textLength="61.1" lengthAdjust="spacing" >Work Area</text>
<line x1="85.2" y1="540" x2="104.2" y2="540" stroke="#000" stroke-width="1.4" stroke-dasharray="2.6,1.5"/>
<text x="116.6" y="544.6" font-size="13.5" textLength="56.4" lengthAdjust="spacing" >Step Error</text>
<line x1="193.6" y1="520.4" x2="214.5" y2="520.4" stroke="#33886f" stroke-width="2"/>
<text x="224.6" y="523.5" font-size="13.5" textLength="45.3" lengthAdjust="spacing" >S-Curve</text>
<line x1="193.6" y1="540.6" x2="214.5" y2="540.6" stroke="#000" stroke-width="1.8"/>
<text x="225.5" y="543.7" font-size="13.5" textLength="44.4" lengthAdjust="spacing" >Position</text>
<rect x="296.9" y="515.5" width="19.2" height="9.6" fill="#fff" stroke="#000" stroke-width="1"/>
<line x1="307.1" y1="515.5" x2="307.1" y2="522.7" stroke="#000" stroke-width="1"/>
<text x="329.5" y="523.5" font-size="13.5" textLength="74.5" lengthAdjust="spacing" >Work Crystal</text></svg>
</body></html>
